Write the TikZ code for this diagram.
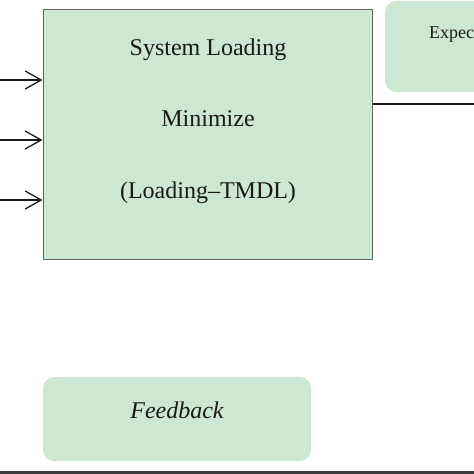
\documentclass[tikz,border=0pt]{standalone}
\usepackage{fontspec}
\setmainfont{Liberation Serif}
\usetikzlibrary{arrows.meta}
\definecolor{boxgreen}{RGB}{204,232,210}
\definecolor{ink}{RGB}{25,25,25}
\definecolor{edge}{RGB}{100,100,100}
\begin{document}
\begin{tikzpicture}[x=1pt,y=-1pt,
  mainbox/.style={draw=edge,line width=1pt,fill=boxgreen,minimum width=329pt,minimum height=250pt,inner sep=0pt},
  softbox/.style={fill=boxgreen,rounded corners=11pt,inner sep=0pt},
  bigtext/.style={text=ink,font=\fontsize{24}{28}\selectfont,align=center,inner sep=0pt},
  conn/.style={draw=ink,line width=1.3pt},
  inarrow/.style={conn,-{Straight Barb[length=16pt,width=18pt,line width=1.3pt]}}]
\useasboundingbox (0,0) rectangle (474,474);
\clip (0,0) rectangle (474,474);
% main box
\node[mainbox] (main) at (207.5,134) {};
\node[bigtext,font=\fontsize{24}{71.5}\selectfont] (maintext) at (208,121)
  {System Loading\\Minimize\\(Loading--TMDL)};
% expected box (cut by the frame)
\node[softbox,minimum width=130pt,minimum height=91pt] (expbox) at (450,46.5) {};
\node[text=ink,font=\fontsize{18}{22}\selectfont,anchor=base west,inner sep=0pt] (exptext) at (429,38.5) {Expec};
% feedback box
\node[softbox,minimum width=268pt,minimum height=84pt] (fb) at (177,419) {};
\node[bigtext,font=\fontsize{24}{28}\itshape] (fbtext) at (177,410) {Feedback};
% inputs
\coordinate (in1) at (0,80);
\coordinate (in2) at (0,140);
\coordinate (in3) at (0,200);
\draw[inarrow] (in1) -- (in1 -| main.west);
\draw[inarrow] (in2) -- (in2 -| main.west);
\draw[inarrow] (in3) -- (in3 -| main.west);
% output line
\coordinate (out) at (474,104);
\draw[conn] (out -| main.east) -- (out);
% bottom rule
\coordinate (bl) at (0,472.5);
\coordinate (br) at (474,472.5);
\draw[draw=ink!85,line width=3pt] (bl) -- (br);
\end{tikzpicture}
\end{document}
